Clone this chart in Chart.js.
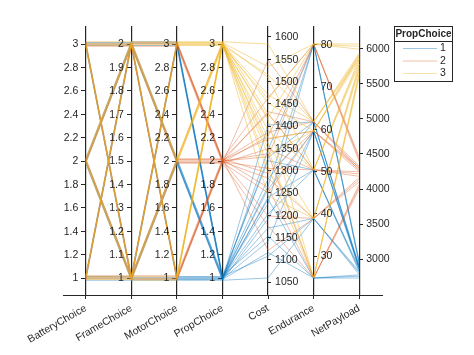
<!DOCTYPE html>
<html>
<head>
<meta charset="utf-8">
<script src="https://cdn.jsdelivr.net/npm/chart.js@4.4.1/dist/chart.umd.min.js"></script>
<style>
html,body{margin:0;padding:0;background:#ffffff;}
#wrap{width:474px;height:355px;}
</style>
</head>
<body>
<div id="wrap"><canvas id="c" width="474" height="355"></canvas></div>
<script>
// ---------------- data ----------------
const variables = ['BatteryChoice','FrameChoice','MotorChoice','PropChoice','Cost','Endurance','NetPayload'];
const legendTitle = 'PropChoice';
const groupLabels = ['1','2','3'];

const batteryChoice = [
  1,1,1,1,1,1,2,2,2,2,2,2,3,3,3,3,3,3,
  1,1,1,1,1,1,2,2,2,2,2,2,3,3,3,3,3,3,
  1,1,1,1,1,1,2,2,2,2,2,2,3,3,3,3,3,3];
const frameChoice = [
  1,1,1,2,2,2,1,1,1,2,2,2,1,1,1,2,2,2,
  1,1,1,2,2,2,1,1,1,2,2,2,1,1,1,2,2,2,
  1,1,1,2,2,2,1,1,1,2,2,2,1,1,1,2,2,2];
const motorChoice = [
  1,2,3,1,2,3,1,2,3,1,2,3,1,2,3,1,2,3,
  1,2,3,1,2,3,1,2,3,1,2,3,1,2,3,1,2,3,
  1,2,3,1,2,3,1,2,3,1,2,3,1,2,3,1,2,3];
const propChoice = [
  1,1,1,1,1,1,1,1,1,1,1,1,1,1,1,1,1,1,
  2,2,2,2,2,2,2,2,2,2,2,2,2,2,2,2,2,2,
  3,3,3,3,3,3,3,3,3,3,3,3,3,3,3,3,3,3];
const cost = [
  1059,1108,1171,1116,1153,1236,1141,1192,1258,1203,1240,1322,1226,1265,1347,1281,1329,1402,
  1121,1198,1283,1176,1262,1338,1250,1294,1371,1305,1349,1428,1331,1377,1463,1386,1432,1548,
  1243,1295,1360,1308,1349,1414,1336,1372,1452,1390,1427,1509,1418,1461,1533,1470,1515,1584];
const endurance = [
  38.9,38.9,38.9,24.8,24.8,24.8,59.6,59.6,59.6,50.4,50.4,50.4,80.2,80.2,80.2,61.8,61.8,61.8,
  38.9,38.9,38.9,24.8,24.8,24.8,59.6,59.6,59.6,50.4,50.4,50.4,80.2,80.2,80.2,61.8,61.8,61.8,
  38.9,38.9,38.9,24.8,24.8,24.8,59.6,59.6,59.6,50.4,50.4,50.4,80.2,80.2,80.2,61.8,61.8,61.8];
const netPayload = [
  2778,2803,2823,2729,2754,2774,2851,2876,2896,2819,2844,2864,2923,2948,2968,2859,2884,2904,
  4100,4135,4165,4000,4035,4065,4246,4281,4311,4181,4216,4246,4392,4427,4457,4262,4297,4327,
  5701,5741,5776,5600,5640,5675,5849,5889,5924,5783,5823,5858,5996,6036,6071,5865,5905,5940];

const batteryTicks = [1,1.2,1.4,1.6,1.8,2,2.2,2.4,2.6,2.8,3];
const frameTicks = [1,1.1,1.2,1.3,1.4,1.5,1.6,1.7,1.8,1.9,2];
const motorTicks = [1,1.2,1.4,1.6,1.8,2,2.2,2.4,2.6,2.8,3];
const propTicks = [1,1.2,1.4,1.6,1.8,2,2.2,2.4,2.6,2.8,3];
const costTicks = [1050,1100,1150,1200,1250,1300,1350,1400,1450,1500,1550,1600];
const enduranceTicks = [30,40,50,60,70,80];
const payloadTicks = [3000,3500,4000,4500,5000,5500,6000];

// ---------------- style ----------------
const FONT_FAMILY = '"Liberation Sans", Arial, Helvetica, sans-serif';
const FONT_SIZE = 10.5;
const TEXT_COLOR = '#262626';
const AXIS_COLOR = '#262626';
const GROUP_COLORS = ['rgba(0,114,189,0.40)','rgba(217,83,25,0.38)','rgba(237,177,32,0.45)'];
const LEGEND_COLORS = ['rgba(0,114,189,0.38)','rgba(217,83,25,0.38)','rgba(237,177,32,0.38)'];

Chart.defaults.font.family = FONT_FAMILY;
Chart.defaults.font.size = FONT_SIZE;
Chart.defaults.color = TEXT_COLOR;

const columns = [batteryChoice, frameChoice, motorChoice, propChoice, cost, endurance, netPayload];
const tickSets = [batteryTicks, frameTicks, motorTicks, propTicks, costTicks, enduranceTicks, payloadTicks];
const rightSide = [false,false,false,false,true,true,true];
const categorical = [true,true,true,true,false,false,false];
const PAD = 17/234;
const ranges = columns.map(c => [Math.min(...c), Math.max(...c)]);

const datasets = [];
for (let i = 0; i < propChoice.length; i++) {
  const g = propChoice[i];
  const jit = (((i * 5) % 7) - 3) * 0.0032;
  datasets.push({
    label: groupLabels[g-1],
    data: columns.map((col, j) => {
      const lo = ranges[j][0], hi = ranges[j][1];
      return (col[i] - lo) / (hi - lo) + (categorical[j] ? jit : 0);
    }),
    borderColor: GROUP_COLORS[g-1],
    borderWidth: 1,
    pointRadius: 0,
    pointHoverRadius: 0,
    fill: false,
    tension: 0,
    yAxisID: 'yn',
    order: 3 - g
  });
}

const scales = {
  x: {
    type: 'category',
    offset: true,
    grid: {display: true, drawOnChartArea: false, drawTicks: true, tickLength: 4, color: AXIS_COLOR, lineWidth: 1},
    border: {display: true, color: AXIS_COLOR, width: 1},
    ticks: {autoSkip: false, minRotation: 30, maxRotation: 30, padding: 3, color: TEXT_COLOR, font: {size: FONT_SIZE}},
    afterFit: s => { s.height = 60; }
  },
  yn: {type: 'linear', axis: 'y', display: false, min: -PAD, max: 1 + PAD}
};
columns.forEach((col, k) => {
  const lo = ranges[k][0], hi = ranges[k][1], span = hi - lo;
  const right = rightSide[k];
  scales['y' + k] = {
    type: 'linear',
    axis: 'y',
    position: {x: k},
    min: lo - PAD * span,
    max: hi + PAD * span,
    grid: {drawOnChartArea: false, drawTicks: true, tickLength: right ? -4 : 4, color: AXIS_COLOR, lineWidth: 1},
    border: {display: true, color: AXIS_COLOR, width: 1.2},
    ticks: {display: false, autoSkip: false, callback: v => String(v)},
    afterBuildTicks: s => { s.ticks = tickSets[k].map(v => ({value: v})); }
  };
});

// draws each axis' tick labels at the tick positions of its own Chart.js scale
const axisLabelPlugin = {
  id: 'axisLabels',
  afterDraw(chart) {
    const ctx = chart.ctx;
    const xs = chart.scales.x;
    ctx.save();
    ctx.font = FONT_SIZE + 'px ' + FONT_FAMILY;
    ctx.fillStyle = TEXT_COLOR;
    ctx.textBaseline = 'middle';
    columns.forEach((col, k) => {
      const s = chart.scales['y' + k];
      const ax = xs.getPixelForValue(k);
      const right = rightSide[k];
      ctx.textAlign = right ? 'left' : 'right';
      s.ticks.forEach(t => {
        const y = s.getPixelForValue(t.value);
        ctx.fillText(String(t.value), right ? ax + 7 : ax - 7.5, y + 0.5);
      });
    });
    ctx.restore();
  }
};

const legendPlugin = {
  id: 'propLegend',
  afterDraw(chart) {
    const ctx = chart.ctx;
    ctx.save();
    const L = 394, T = 26, R = 453, B = 82;
    ctx.fillStyle = '#ffffff';
    ctx.fillRect(L, T, R - L, B - T);
    ctx.strokeStyle = AXIS_COLOR;
    ctx.lineWidth = 1;
    ctx.strokeRect(L + 0.5, T + 0.5, R - L - 1, B - T - 1);
    ctx.beginPath(); ctx.moveTo(L, 41.5); ctx.lineTo(R, 41.5); ctx.stroke();
    ctx.fillStyle = TEXT_COLOR;
    ctx.font = 'bold 10px ' + FONT_FAMILY;
    ctx.textAlign = 'center';
    ctx.textBaseline = 'middle';
    ctx.fillText(legendTitle, (L + R) / 2, 34);
    ctx.font = FONT_SIZE + 'px ' + FONT_FAMILY;
    groupLabels.forEach((g, i) => {
      const y = 48 + i * 12.5;
      ctx.strokeStyle = LEGEND_COLORS[i];
      ctx.lineWidth = 1.2;
      ctx.beginPath(); ctx.moveTo(403, y + 0.5); ctx.lineTo(437, y + 0.5); ctx.stroke();
      ctx.fillStyle = TEXT_COLOR;
      ctx.textAlign = 'left';
      ctx.fillText(g, 440, y + 0.5);
    });
    ctx.restore();
  }
};

new Chart(document.getElementById('c'), {
  type: 'line',
  data: {labels: variables, datasets: datasets},
  options: {
    responsive: false,
    animation: false,
    events: [],
    layout: {padding: {top: 27, left: 63, right: 92, bottom: 0}},
    plugins: {legend: {display: false}, tooltip: {enabled: false}},
    scales: scales
  },
  plugins: [axisLabelPlugin, legendPlugin]
});
</script>
</body>
</html>
